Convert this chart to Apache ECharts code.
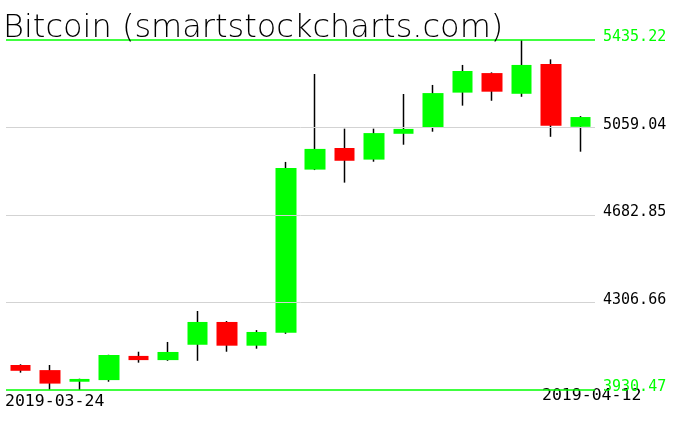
<!DOCTYPE html>
<html>
<head>
<meta charset="utf-8">
<script src="https://cdn.jsdelivr.net/npm/echarts@6/dist/echarts.min.js"></script>
<style>html,body{margin:0;padding:0;background:#fff;}#c{width:676px;height:431px;}</style>
</head>
<body>
<div id="c"></div>
<script>
const titleText = 'Bitcoin (smartstockcharts.com)';
const dates = ['2019-03-24','2019-03-25','2019-03-26','2019-03-27','2019-03-28','2019-03-29','2019-03-30','2019-03-31','2019-04-01','2019-04-02','2019-04-03','2019-04-04','2019-04-05','2019-04-06','2019-04-07','2019-04-08','2019-04-09','2019-04-10','2019-04-11','2019-04-12'];
const opens  = [4038, 4016, 3966, 3973, 4077, 4059, 4125, 4223, 4121, 4177, 4878, 4971, 4921, 5032, 5057, 5209, 5293, 5204, 5332, 5062];
const closes = [4013, 3958, 3978, 4081, 4059, 4094, 4223, 4121, 4180, 4885, 4967, 4916, 5035, 5053, 5207, 5302, 5213, 5328, 5067, 5104];
const lows   = [4005, 3932, 3930.47, 3966, 4048, 4056, 4056, 4095, 4108, 4172, 4876, 4822, 4912, 4985, 5041, 5153, 5174, 5191, 5019, 4955];
const highs  = [4041, 4038, 3979, 4082, 4095, 4137, 4270, 4227, 4188, 4911, 5289, 5054, 5054, 5203, 5242, 5328, 5296, 5435.22, 5352, 5108];
const yTicks = [3930.47, 4306.66, 4682.85, 5059.04, 5435.22];

const GREEN = '#00ff00', RED = '#ff0000', GRID = '#d3d3d3';
const mono = "'DejaVu Sans Mono', monospace";

const wickData = dates.map((d, i) => [opens[i], closes[i], lows[i], highs[i]]);
const bodyData = dates.map((d, i) => [opens[i], closes[i], Math.min(opens[i], closes[i]), Math.max(opens[i], closes[i])]);

const lastIdx = yTicks.length - 1;
const markData = yTicks.map((v, i) => {
  const edge = (i === 0 || i === lastIdx);
  return {
    yAxis: v,
    name: v.toFixed(2),
    lineStyle: { color: edge ? GREEN : GRID, width: edge ? 1.5 : 1, type: 'solid' },
    label: { color: edge ? GREEN : '#000' }
  };
});

const chart = echarts.init(document.getElementById('c'), null, { renderer: 'canvas' });
chart.setOption({
  animation: false,
  backgroundColor: '#fff',
  title: {
    text: titleText, left: 3, top: 13, padding: 0,
    textStyle: { fontFamily: "'DejaVu Sans ExtraLight', 'DejaVu Sans', sans-serif", fontSize: 32, fontWeight: 200, color: '#000' }
  },
  grid: { left: 6, right: 81, top: 40, bottom: 41, containLabel: false },
  xAxis: {
    type: 'category', data: dates, boundaryGap: true,
    axisLine: { show: false }, axisTick: { show: false }, axisLabel: { show: false }, splitLine: { show: false }
  },
  yAxis: {
    type: 'value', min: yTicks[0], max: yTicks[lastIdx],
    axisLine: { show: false }, axisTick: { show: false }, axisLabel: { show: false }, splitLine: { show: false }
  },
  graphic: [
    { type: 'text', left: 5, top: 393, style: { text: dates[0], font: "16.5px " + mono, fill: '#000' } },
    { type: 'text', left: 542, top: 387, style: { text: dates[dates.length - 1], font: "16.5px " + mono, fill: '#000' } }
  ],
  series: [
    {
      type: 'candlestick', name: 'wick', z: 2, barWidth: 1, silent: true,
      data: wickData,
      itemStyle: { color: '#000', color0: '#000', borderColor: '#000', borderColor0: '#000', borderWidth: 1.5 },
      markLine: {
        silent: true, symbol: 'none', animation: false,
        data: markData,
        label: { show: true, position: 'end', formatter: '{b}', fontFamily: mono, fontSize: 15, distance: 8, verticalAlign: 'bottom', lineHeight: 5 }
      }
    },
    {
      type: 'candlestick', name: 'body', z: 3, barWidth: 21, silent: true,
      data: bodyData,
      itemStyle: { color: GREEN, color0: RED, borderColor: GREEN, borderColor0: RED, borderWidth: 0 }
    }
  ]
});
</script>
</body>
</html>
